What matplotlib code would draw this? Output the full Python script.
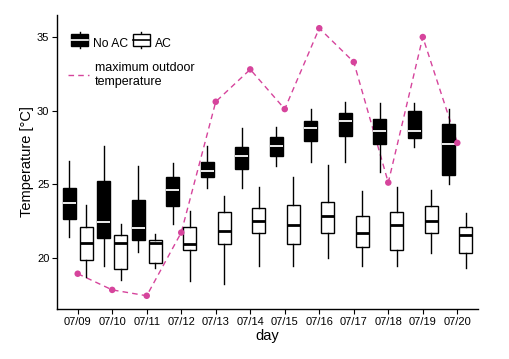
import numpy as np
import matplotlib
matplotlib.use("Agg")
import matplotlib.pyplot as plt
from matplotlib.legend_handler import HandlerBase
from matplotlib.patches import Rectangle
from matplotlib.lines import Line2D

plt.rcParams['font.family'] = ['Liberation Sans', 'DejaVu Sans']

days = ['07/09', '07/10', '07/11', '07/12', '07/13', '07/14',
        '07/15', '07/16', '07/17', '07/18', '07/19', '07/20']

# five-number summaries: low whisker, q1, median, q3, high whisker
noac_low = [21.4, 19.4, 20.4, 22.3, 24.7, 24.7, 26.2, 26.5, 26.5, 25.8, 27.5, 25.0]
noac_q1 = [22.6, 21.3, 21.2, 23.5, 25.5, 26.0, 26.9, 27.9, 28.3, 27.7, 28.1, 25.6]
noac_med = [23.7, 22.4, 22.0, 24.6, 25.9, 26.9, 27.6, 28.8, 29.3, 28.6, 28.6, 27.7]
noac_q3 = [24.7, 25.2, 23.9, 25.5, 26.5, 27.5, 28.2, 29.3, 29.8, 29.4, 30.0, 29.1]
noac_high = [26.6, 27.6, 26.2, 26.4, 27.6, 28.8, 28.9, 30.1, 30.6, 30.5, 30.5, 30.1]

ac_low = [18.7, 18.5, 19.3, 18.4, 18.2, 19.4, 19.4, 20.0, 19.4, 19.4, 20.3, 19.3]
ac_q1 = [19.8, 19.2, 19.6, 20.5, 20.9, 21.7, 20.9, 21.7, 20.7, 20.5, 21.7, 20.3]
ac_med = [21.0, 21.0, 21.0, 20.9, 21.8, 22.5, 22.2, 22.8, 21.7, 22.2, 22.5, 21.5]
ac_q3 = [22.1, 21.5, 21.2, 22.1, 23.1, 23.4, 23.6, 23.8, 22.8, 23.1, 23.5, 22.1]
ac_high = [23.6, 22.3, 21.6, 23.2, 24.2, 24.8, 25.5, 26.3, 24.5, 24.8, 24.6, 23.0]

outdoor_max = [18.9, 17.8, 17.4, 21.7, 30.6, 32.8, 30.1, 35.6, 33.3, 25.1, 35.0, 27.8]

pink = '#d6449c'


def stats(low, q1, med, q3, high):
    return [dict(whislo=a, q1=b, med=c, q3=d, whishi=e, fliers=[])
            for a, b, c, d, e in zip(low, q1, med, q3, high)]


fig = plt.figure(figsize=(5.1, 3.59), dpi=100)
ax = fig.add_axes([57 / 510, 50 / 359, 421 / 510, 294 / 359])

x = np.arange(len(days))
off, w = 0.25, 0.38

ax.plot(x, outdoor_max, color=pink, lw=1.0, ls=(0, (4, 3)), zorder=1)

ax.bxp(stats(noac_low, noac_q1, noac_med, noac_q3, noac_high), positions=x - off,
       widths=w, showcaps=False, showfliers=False, patch_artist=True,
       boxprops=dict(facecolor='black', edgecolor='black', lw=1.0),
       whiskerprops=dict(color='black', lw=1.0),
       medianprops=dict(color='white', lw=1.3), zorder=2)
ax.bxp(stats(ac_low, ac_q1, ac_med, ac_q3, ac_high), positions=x + off,
       widths=w, showcaps=False, showfliers=False, patch_artist=True,
       boxprops=dict(facecolor='white', edgecolor='black', lw=1.0),
       whiskerprops=dict(color='black', lw=1.0),
       medianprops=dict(color='black', lw=2.0), zorder=2)

ax.scatter(x, outdoor_max, s=22, color=pink, zorder=3, edgecolors='none')

ax.set_xlim(-0.6, len(days) - 0.4)
ax.set_ylim(16.5, 36.5)
ax.set_xticks(x)
ax.set_xticklabels(days)
ax.set_yticks([20, 25, 30, 35])
for s in ['top', 'right']:
    ax.spines[s].set_visible(False)
for s in ['left', 'bottom']:
    ax.spines[s].set_linewidth(1.0)
ax.tick_params(labelsize=8, length=3.5, width=0.8, pad=2, colors='black')
ax.set_xlabel('day', fontsize=10.5, labelpad=2)
ax.set_ylabel('Temperature [°C]', fontsize=10.5, labelpad=2)


class BoxHandler(HandlerBase):
    def __init__(self, fill, med):
        super().__init__()
        self.fill, self.med = fill, med

    def create_artists(self, legend, orig, xd, yd, width, height, fontsize, trans):
        cx = xd + width / 2
        wh = Line2D([cx, cx], [yd - height * 0.2, yd + height * 1.2], color='black', lw=1.0, transform=trans)
        r = Rectangle((xd, yd), width, height, facecolor=self.fill, edgecolor='black', lw=1.0, transform=trans)
        m = Line2D([xd, xd + width], [yd + height / 2] * 2, color=self.med, lw=1.2, transform=trans)
        return [wh, r, m]


h1 = Rectangle((0, 0), 1, 1)
h2 = Rectangle((0, 0), 1, 1)
leg1 = ax.legend([h1, h2], ['No AC', 'AC'], ncol=2, frameon=False, fontsize=8.7,
                 handler_map={h1: BoxHandler('black', 'white'), h2: BoxHandler('white', 'black')},
                 loc='upper left', bbox_to_anchor=(0.022, 0.94), handlelength=1.4,
                 handleheight=1.1, handletextpad=0.45, columnspacing=0.35, borderaxespad=0)
ax.add_artist(leg1)
ln = Line2D([], [], color=pink, lw=1.0, ls=(0, (4, 3)))
ax.legend([ln], ['maximum outdoor\ntemperature'], frameon=False, fontsize=9,
          loc='upper left', bbox_to_anchor=(0.014, 0.856), handlelength=1.7,
          handletextpad=0.45, borderaxespad=0)

fig.savefig('out.png', dpi=100)
